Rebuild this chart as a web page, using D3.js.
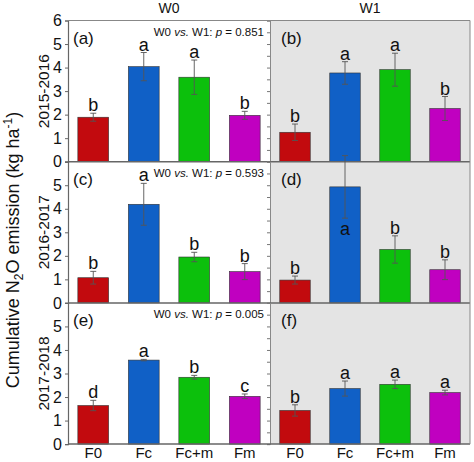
<!DOCTYPE html>
<html>
<head>
<meta charset="utf-8">
<script src="https://cdn.jsdelivr.net/npm/d3@7"></script>
<style>
  body { margin: 0; background: #fff; }
  svg { font-family: "Liberation Sans", Arial, sans-serif; }
</style>
</head>
<body>
<script>
// data
var categories = ["F0", "Fc", "Fc+m", "Fm"];
var years = ["2015-2016", "2016-2017", "2017-2018"];
var treatments = ["W0", "W1"];
var colors = ["#c20a0e", "#1060c6", "#0cc00c", "#c000c0"];

var w0Means  = [[1.89, 4.04, 3.59, 1.97], [1.07, 4.19, 1.95, 1.33], [1.64, 3.57, 2.84, 2.03]];
var w0Errors = [[0.17, 0.60, 0.73, 0.17], [0.27, 0.89, 0.20, 0.34], [0.22, 0.03, 0.08, 0.10]];
var w0Letters = [["b", "a", "a", "b"], ["b", "a", "b", "b"], ["d", "a", "b", "c"]];

var w1Means  = [[1.25, 3.77, 3.91, 2.26], [0.97, 4.93, 2.27, 1.41], [1.43, 2.36, 2.54, 2.19]];
var w1Errors = [[0.35, 0.48, 0.70, 0.51], [0.17, 1.33, 0.58, 0.42], [0.24, 0.32, 0.18, 0.10]];
var w1Letters = [["b", "a", "a", "b"], ["b", "a", "b", "b"], ["b", "a", "a", "a"]];

var pValues = ["0.851", "0.593", "0.005"];
var panelLabels = [["(a)", "(b)"], ["(c)", "(d)"], ["(e)", "(f)"]];
var yTicks = [0, 1, 2, 3, 4, 5, 6];

var left = 68, mid = 270, right = 470,
    top0 = 20.5, rowH = 141.2;

var svg = d3.select("body").append("svg")
    .attr("width", 474)
    .attr("height", 462);

// shaded W1 side
svg.append("rect")
    .attr("x", mid).attr("y", top0)
    .attr("width", right - mid).attr("height", rowH * 3)
    .attr("fill", "#e4e4e4");

var x0 = d3.scaleBand().domain(categories).range([left, mid]).paddingInner(0.39).paddingOuter(0.195);
var x1 = d3.scaleBand().domain(categories).range([mid, right]).paddingInner(0.39).paddingOuter(0.195);

var sides = [
  {x: x0, means: w0Means, errors: w0Errors, letters: w0Letters},
  {x: x1, means: w1Means, errors: w1Errors, letters: w1Letters}
];

years.forEach(function(yr, r) {
  var y = d3.scaleLinear().domain([0, 6]).range([top0 + rowH * (r + 1), top0 + rowH * r]);
  var g = svg.append("g");

  sides.forEach(function(s, si) {
    var rows = categories.map(function(c, i) {
      return {cat: c, v: s.means[r][i], e: s.errors[r][i], l: s.letters[r][i], col: colors[i]};
    });

    g.selectAll(null).data(rows).enter().append("rect")
        .attr("x", function(d) { return s.x(d.cat); })
        .attr("y", function(d) { return y(d.v); })
        .attr("width", s.x.bandwidth())
        .attr("height", function(d) { return y(0) - y(d.v); })
        .attr("fill", function(d) { return d.col; })
        .attr("stroke", "#333")
        .attr("stroke-width", 0.6);

    // error bars
    var eb = g.selectAll(null).data(rows).enter().append("g")
        .attr("stroke", "#555").attr("stroke-width", 0.9);
    eb.append("line")
        .attr("x1", function(d) { return s.x(d.cat) + s.x.bandwidth() / 2; })
        .attr("x2", function(d) { return s.x(d.cat) + s.x.bandwidth() / 2; })
        .attr("y1", function(d) { return y(d.v - d.e); })
        .attr("y2", function(d) { return y(d.v + d.e); });
    eb.append("line")
        .attr("x1", function(d) { return s.x(d.cat) + s.x.bandwidth() / 2 - 3; })
        .attr("x2", function(d) { return s.x(d.cat) + s.x.bandwidth() / 2 + 3; })
        .attr("y1", function(d) { return y(d.v + d.e); })
        .attr("y2", function(d) { return y(d.v + d.e); });
    eb.append("line")
        .attr("x1", function(d) { return s.x(d.cat) + s.x.bandwidth() / 2 - 3; })
        .attr("x2", function(d) { return s.x(d.cat) + s.x.bandwidth() / 2 + 3; })
        .attr("y1", function(d) { return y(d.v - d.e); })
        .attr("y2", function(d) { return y(d.v - d.e); });

    // significance letters, inside the bar when the error runs off the panel
    g.selectAll(null).data(rows).enter().append("text")
        .attr("x", function(d) { return s.x(d.cat) + s.x.bandwidth() / 2; })
        .attr("y", function(d) {
          return d.v + d.e > 6 ? y(d.v * 0.64) + 6 : y(d.v + d.e) - 2;
        })
        .attr("text-anchor", "middle")
        .attr("font-size", 18)
        .attr("fill", "#111")
        .text(function(d) { return d.l; });

    g.append("text")
        .attr("x", si ? mid + 11 : left + 5)
        .attr("y", top0 + rowH * r + 23)
        .attr("font-size", 17)
        .attr("fill", "#111")
        .text(panelLabels[r][si]);
  });

  // left axis
  var ax = g.append("g")
      .attr("transform", "translate(" + left + ",0)")
      .call(d3.axisLeft(y).tickValues(r === 0 ? yTicks : yTicks.slice(0, 6)).tickSize(3).tickPadding(3).tickFormat(d3.format("d")));
  ax.select(".domain").attr("stroke", "#666").attr("stroke-width", 1.2);
  ax.selectAll(".tick line").attr("stroke", "#666");
  ax.selectAll(".tick text").attr("font-size", 16).attr("fill", "#111").attr("font-family", "Liberation Sans, Arial, sans-serif");

  // divider ticks
  var dv = g.append("g")
      .attr("transform", "translate(" + mid + ",0)")
      .call(d3.axisLeft(y).ticks(12).tickSize(3).tickFormat(""));
  dv.select(".domain").attr("stroke", "#888").attr("stroke-width", 1);
  dv.selectAll(".tick line").attr("stroke", "#777");

  // bottom line of the row
  g.append("line")
      .attr("x1", left).attr("x2", right)
      .attr("y1", y(0)).attr("y2", y(0))
      .attr("stroke", "#666").attr("stroke-width", 1.5);

  var pt = g.append("text")
      .attr("x", mid - 6)
      .attr("y", top0 + rowH * r + 15)
      .attr("text-anchor", "end")
      .attr("font-size", 11.5)
      .attr("fill", "#111");
  pt.append("tspan").text("W0 ");
  pt.append("tspan").attr("font-style", "italic").text("vs.");
  pt.append("tspan").text(" W1: ");
  pt.append("tspan").attr("font-style", "italic").text("p");
  pt.append("tspan").text(" = " + pValues[r]);

  g.append("text")
      .attr("transform", "translate(49," + (top0 + rowH * r + rowH / 2) + ") rotate(-90)")
      .attr("text-anchor", "middle")
      .attr("font-size", 15.5)
      .attr("fill", "#111")
      .text(yr);
});

// frame top and right
svg.append("path")
    .attr("d", "M" + left + "," + top0 + "H" + right + "V" + (top0 + rowH * 3))
    .attr("fill", "none")
    .attr("stroke", "#888")
    .attr("stroke-width", 1);

// category labels
var bottom = top0 + rowH * 3;
[x0, x1].forEach(function(sc) {
  svg.append("g").selectAll(null).data(categories).enter().append("text")
      .attr("x", function(d) { return sc(d) + sc.bandwidth() / 2; })
      .attr("y", bottom + 14)
      .attr("text-anchor", "middle")
      .attr("font-size", 15)
      .attr("fill", "#111")
      .text(function(d) { return d; });
});

// treatment titles
svg.selectAll(null).data(treatments).enter().append("text")
    .attr("x", function(d, i) { return i ? (mid + right) / 2 : (left + mid) / 2; })
    .attr("y", 13)
    .attr("text-anchor", "middle")
    .attr("font-size", 14)
    .attr("fill", "#111")
    .text(function(d) { return d; });

// y title
var yt = svg.append("text")
    .attr("transform", "translate(19,250) rotate(-90)")
    .attr("text-anchor", "middle")
    .attr("font-size", 18)
    .attr("fill", "#111");
yt.append("tspan").text("Cumulative N");
yt.append("tspan").attr("font-size", 12).attr("dy", 4).text("2");
yt.append("tspan").attr("dy", -4).text("O emission (kg ha");
yt.append("tspan").attr("font-size", 12).attr("dy", -7).text("-1");
yt.append("tspan").attr("dy", 7).text(")");
</script>
</body>
</html>
